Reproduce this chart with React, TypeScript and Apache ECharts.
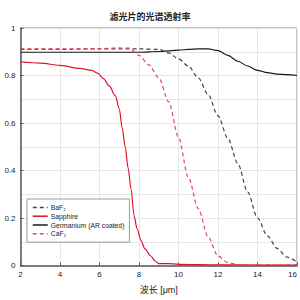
import React, { useEffect, useRef } from "react";
import * as echarts from "echarts";

const TITLE = "滤光片的光谱透射率";
const X_NAME = "波长 [μm]";
const SERIES_NAMES = ["BaF₂", "Sapphire", "Germanium (AR coated)", "CaF₂"];

const baf2X = [2, 4, 6, 8, 9, 9.5, 10, 10.5, 11, 11.5, 12, 12.5, 13, 13.5, 14, 14.5, 15, 15.5, 16];
const baf2Y = [0.91, 0.91, 0.912, 0.912, 0.91, 0.895, 0.87, 0.84, 0.79, 0.72, 0.63, 0.535, 0.43, 0.31, 0.2, 0.125, 0.072, 0.035, 0.015];

const sapphireX = [2, 3, 4, 5, 5.6, 5.9, 6.2, 6.5, 6.8, 7.0, 7.15, 7.3, 7.45, 7.6, 7.75, 7.9, 8.1, 8.3, 8.6, 8.8, 9.0, 9.5, 10, 12, 14, 16];
const sapphireY = [0.858, 0.852, 0.843, 0.83, 0.822, 0.81, 0.787, 0.755, 0.715, 0.66, 0.58, 0.5, 0.41, 0.32, 0.21, 0.155, 0.105, 0.07, 0.04, 0.02, 0.008, 0.008, 0.005, 0.003, 0.002, 0.002];

const germaniumX = [2, 4, 6, 8, 9, 10, 10.5, 11, 11.5, 12, 12.5, 13, 13.5, 14, 14.5, 15, 15.5, 16];
const germaniumY = [0.898, 0.898, 0.898, 0.898, 0.901, 0.907, 0.91, 0.912, 0.912, 0.905, 0.885, 0.86, 0.84, 0.822, 0.812, 0.806, 0.804, 0.8];

const caf2X = [2, 4, 6, 7, 7.5, 8, 8.5, 9, 9.5, 10, 10.5, 11, 11.5, 12, 12.5, 13, 14, 15, 16];
const caf2Y = [0.912, 0.912, 0.913, 0.916, 0.915, 0.885, 0.845, 0.79, 0.69, 0.54, 0.37, 0.24, 0.12, 0.04, 0.012, 0.004, 0.003, 0.003, 0.003];

const X_MIN = 2;
const X_MAX = 16;
const X_STEP = 2;
const Y_MIN = 0;
const Y_MAX = 1;
const Y_STEP = 0.2;

const FONT = "'Liberation Sans', 'Noto Sans CJK SC', sans-serif";

const zip = (xs: number[], ys: number[]) => xs.map((x, i) => [x, ys[i]]);

export default function App() {
  const ref = useRef<HTMLDivElement>(null);
  useEffect(() => {
    if (!ref.current) return;
    const chart = echarts.init(ref.current, null, { renderer: "svg" });
    const mk = (name: string, xs: number[], ys: number[], color: string, type: string) => ({
      name,
      type: "line",
      data: zip(xs, ys),
      symbol: "none",
      smooth: 0.3,
      smoothMonotone: "x",
      lineStyle: { color, width: 1.2, type: type === "dashed" ? [4, 3] : "solid" },
      itemStyle: { color },
    });
    chart.setOption({
      animation: false,
      textStyle: { fontFamily: FONT },
      title: {
        text: TITLE,
        left: "center",
        top: 7,
        textStyle: { fontSize: 9, fontWeight: "bold", color: "#222", fontFamily: FONT },
      },
      grid: {
        left: 20.5,
        right: 2.5,
        top: 28,
        bottom: 34.5,
        show: true,
        borderColor: "#888",
        borderWidth: 1,
        backgroundColor: "transparent",
      },
      legend: {
        orient: "vertical",
        left: 27,
        top: 199,
        padding: [4, 5, 4, 5],
        itemGap: 0,
        itemWidth: 15,
        itemHeight: 8,
        backgroundColor: "#fff",
        borderColor: "#999",
        borderWidth: 1,
        borderRadius: 0,
        itemStyle: { opacity: 0 },
        lineStyle: { width: 1.5 },
        textStyle: { fontSize: 6.8, color: "#222", fontFamily: FONT, lineHeight: 8.8, padding: [0, 0, 0, -2] },
        data: SERIES_NAMES,
      },
      xAxis: {
        type: "value",
        min: X_MIN,
        max: X_MAX,
        interval: X_STEP,
        name: X_NAME,
        nameLocation: "middle",
        nameGap: 20,
        nameTextStyle: { fontSize: 9, color: "#222", fontFamily: FONT },
        axisLine: { show: true, lineStyle: { color: "#555", width: 1.5 } },
        axisTick: { show: true, inside: true, length: 3, lineStyle: { color: "#555" } },
        axisLabel: { fontSize: 8, color: "#222", margin: 5, alignMaxLabel: "right" },
        splitLine: { show: true, lineStyle: { color: "#e6e6e6", width: 1 } },
      },
      yAxis: {
        type: "value",
        min: Y_MIN,
        max: Y_MAX,
        interval: Y_STEP,
        axisLine: { show: true, lineStyle: { color: "#555", width: 1.5 } },
        axisTick: { show: true, inside: true, length: 3, lineStyle: { color: "#555" } },
        axisLabel: { fontSize: 8, color: "#222", margin: 5 },
        splitLine: { show: true, lineStyle: { color: "#e6e6e6", width: 1 } },
        minorTick: { show: false, splitNumber: 2 },
        minorSplitLine: { show: true, lineStyle: { color: "#e6e6e6", width: 1 } },
      },
      series: [
        mk(SERIES_NAMES[2], germaniumX, germaniumY, "#1a1a1a", "solid"),
        mk(SERIES_NAMES[0], baf2X, baf2Y, "#444444", "dashed"),
        mk(SERIES_NAMES[1], sapphireX, sapphireY, "#e0102a", "solid"),
        mk(SERIES_NAMES[3], caf2X, caf2Y, "#e8485c", "dashed"),
      ],
    });
    return () => chart.dispose();
  }, []);
  return <div ref={ref} style={{ width: 300, height: 300, position: "absolute", left: 0, top: 0 }} />;
}
